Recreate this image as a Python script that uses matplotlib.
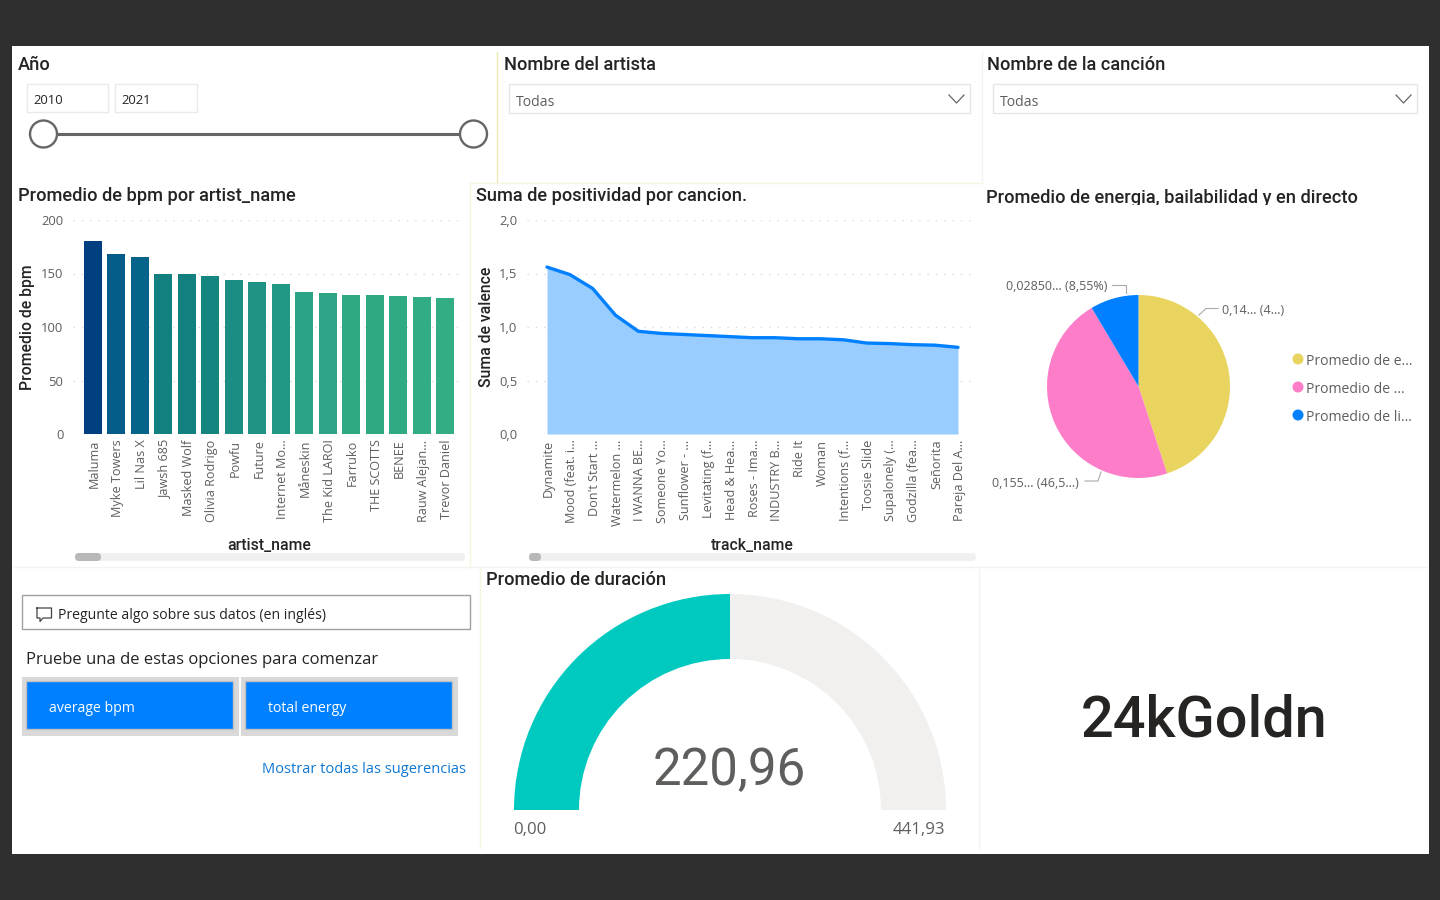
import numpy as np
import matplotlib
matplotlib.use("Agg")
import matplotlib.pyplot as plt
from matplotlib.colors import LinearSegmentedColormap
from matplotlib.patches import Rectangle, Circle, FancyBboxPatch, Wedge
from matplotlib.transforms import ScaledTranslation

W, H = 1440, 900

# Bar chart data
artists = ["Maluma", "Myke Towers", "Lil Nas X", "Jawsh 685", "Masked Wolf", "Olivia Rodrigo",
           "Powfu", "Future", "Internet Mo...", "Måneskin", "The Kid LAROI", "Farruko",
           "THE SCOTTS", "BENEE", "Rauw Alejan...", "Trevor Daniel"]
bpm = [180, 168, 165, 150, 150, 148, 144, 142, 140, 133, 132, 130, 130, 129, 128, 127]

# Area chart data
tracks = ["Dynamite", "Mood (feat. i...", "Don't Start ...", "Watermelon ...", "I WANNA BE...",
          "Someone Yo...", "Sunflower - ...", "Levitating (f...", "Head & Hea...", "Roses - Ima...",
          "INDUSTRY B...", "Ride It", "Woman", "Intentions (f...", "Toosie Slide", "Supalonely (...",
          "Godzilla (fea...", "Señorita", "Pareja Del A..."]
valence = [1.56, 1.49, 1.36, 1.11, 0.96, 0.94, 0.93, 0.92, 0.91, 0.90,
           0.90, 0.89, 0.89, 0.88, 0.85, 0.845, 0.835, 0.83, 0.81]

# Pie data
pie_values = [0.1498, 0.155, 0.0285]
pie_colors = ["#E8D45E", "#FD7DC9", "#0080FF"]
pie_labels = ["0,14... (4...)", "0,155... (46,5...)", "0,02850... (8,55%)"]
pie_legend = ["Promedio de e...", "Promedio de ...", "Promedio de li..."]

# Gauge data
gauge_value = 220.96
gauge_max = 441.93

TITLE = "#252423"
GRAY = "#605E5C"
GRID = "#D9D9D9"
SANS = "Open Sans"
HEAD = "Roboto"


def px_axes(x0, y0, x1, y1):
    # axes from pixel box, y counted from the top
    ax = fig.add_axes([x0 / W, 1 - y1 / H, (x1 - x0) / W, (y1 - y0) / H], zorder=2)
    ax.patch.set_alpha(0)
    return ax


def px(size):
    return size * 0.72


def box(x0, y0, x1, y1, fc="white", ec="none", lw=1, z=1):
    bg.add_patch(Rectangle((x0, y0), x1 - x0, y1 - y0, facecolor=fc, edgecolor=ec, linewidth=lw, zorder=z))


def title(x, y, s):
    bg.text(x, y, s, fontsize=px(18.3), family=HEAD, weight="medium", color=TITLE, ha="left", va="baseline", zorder=3)


def axis_label(x, y, s, rotation=0):
    bg.text(x, y, s, rotation=rotation, fontsize=px(15.8), family=HEAD, weight="medium", color=TITLE,
            ha="center", va="center", zorder=3)


def style_chart(ax, ticks, ticklabels):
    for s in ax.spines.values():
        s.set_visible(False)
    ax.set_ylim(0, ticks[-1])
    ax.set_yticks(ticks, ticklabels)
    ax.grid(axis="y", color=GRID, linestyle=(0, (1, 5)), linewidth=1)
    ax.set_axisbelow(True)
    ax.tick_params(axis="y", length=0, pad=7, labelsize=px(13), labelcolor=GRAY)
    ax.tick_params(axis="x", length=0, pad=4, labelsize=px(12.6), labelcolor=GRAY, labelrotation=90)
    shift = ScaledTranslation(1.5 / 100, 0, fig.dpi_scale_trans)
    for t in ax.get_xticklabels():
        t.set_family(SANS)
        t.set_transform(t.get_transform() + shift)
    for t in ax.get_yticklabels():
        t.set_family(SANS)


fig = plt.figure(figsize=(W / 100, H / 100), dpi=100, facecolor="#2F2F2F")

# full page layer for the report frame, measured in pixels
bg = fig.add_axes([0, 0, 1, 1], zorder=0)
bg.set_xlim(0, W)
bg.set_ylim(H, 0)
bg.axis("off")
box(12, 46, 1429, 854)

# panel separators
bg.plot([497, 497], [52, 183], color="#EFE9B0", lw=1, zorder=2)
bg.plot([982, 982], [52, 183], color="#F3F3F0", lw=1, zorder=2)
bg.plot([470, 982], [183, 183], color="#F7F5E0", lw=1, zorder=2)
bg.plot([470, 470], [183, 567], color="#F7F5E0", lw=1, zorder=2)
bg.plot([13, 1428], [567, 567], color="#F3F3F0", lw=1, solid_capstyle="butt", zorder=2)
bg.plot([480, 480], [567, 848], color="#F7F5E0", lw=1, zorder=2)
bg.plot([979, 979], [567, 848], color="#F3F3F0", lw=1, zorder=2)

# slicers
title(17.5, 70, "Año")
title(503.5, 70, "Nombre del artista")
title(987, 70, "Nombre de la canción")
box(26.5, 84, 107.5, 112, ec="#EAEAEA")
box(114.5, 84, 196.5, 112, ec="#EAEAEA")
bg.text(33.5, 100.5, "2010", fontsize=px(13), family=SANS, color=TITLE, va="center", zorder=3)
bg.text(121.5, 100.5, "2021", fontsize=px(13), family=SANS, color=TITLE, va="center", zorder=3)
bg.plot([43, 473], [134, 134], color="#666666", lw=2.2, zorder=2)
for cx in (43.5, 473.5):
    bg.add_patch(Circle((cx, 134), 13.5, facecolor="white", edgecolor="#666666", linewidth=1.7, zorder=3))
for x0, x1 in ((509, 970), (993, 1417)):
    box(x0, 84, x1, 113, ec="#E6E6E6")
    bg.text(x0 + 7, 102, "Todas", fontsize=px(14), family=SANS, color=GRAY, va="center", zorder=3)
    bg.plot([x1 - 21, x1 - 13.5, x1 - 6], [95, 103, 95], color="#666666", lw=0.9, zorder=3)

# bar chart
title(17.5, 201, "Promedio de bpm por artist_name")
bar_cmap = LinearSegmentedColormap.from_list(
    "bpm", [(0, "#33AD84"), (0.25, "#209686"), (0.43, "#12817F"), (0.72, "#05648A"), (1, "#023F80")])
ax1 = px_axes(73, 220, 462, 434)
pos1 = np.arange(len(artists))
norm_bpm = (np.array(bpm) - min(bpm)) / (max(bpm) - min(bpm))
ax1.bar(pos1, bpm, width=0.77, color=bar_cmap(norm_bpm))
ax1.set_xlim(-0.85, 15.72)
ax1.set_xticks(pos1, artists)
style_chart(ax1, [0, 50, 100, 150, 200], ["0", "50", "100", "150", "200"])
axis_label(27.5, 327, "Promedio de bpm", rotation=90)
axis_label(269, 545.5, "artist_name")

# area chart
title(475.5, 201, "Suma de positividad por cancion.")
ax2 = px_axes(527, 220, 976, 434)
pos2 = np.arange(len(tracks))
ax2.fill_between(pos2, valence, 0, color="#99CCFF", linewidth=0)
ax2.plot(pos2, valence, color="#0080FF", lw=2.4, solid_capstyle="round")
ax2.set_xlim(-20 / 22.83, 18 + 18 / 22.83)
ax2.set_xticks(pos2, tracks)
style_chart(ax2, [0, 0.5, 1.0, 1.5, 2.0], ["0,0", "0,5", "1,0", "1,5", "2,0"])
axis_label(486.5, 327, "Suma de valence", rotation=90)
axis_label(752, 545.5, "track_name")

# scrollbars
for x0, x1, thumb in ((75, 465, 101), (529, 976, 541)):
    bg.add_patch(FancyBboxPatch((x0, 553), x1 - x0, 8, boxstyle="round,pad=0,rounding_size=4",
                                facecolor="#F0F0F0", edgecolor="none", zorder=2))
    bg.add_patch(FancyBboxPatch((x0, 553), thumb - x0, 8, boxstyle="round,pad=0,rounding_size=4",
                                facecolor="#B8B8B8", edgecolor="none", zorder=3))

# pie chart
title(986, 203, "Promedio de energia, bailabilidad y en directo")
box(984, 204.5, 1400, 210, z=4)
ax3 = px_axes(1047, 295, 1230, 478)
ax3.pie(pie_values, colors=pie_colors, startangle=90, counterclock=False, radius=1,
        wedgeprops=dict(linewidth=0))
ax3.set_xlim(-1, 1)
ax3.set_ylim(-1, 1)
label_pos = [(1222, 310.5), (1079, 483.5), (1107, 286.5)]
label_ha = ["left", "right", "right"]
leaders = [([1199, 1206, 1218], [315, 308.5, 308.5]),
           ([1101, 1098, 1085], [472, 481, 481]),
           ([1126, 1126, 1112], [293, 285, 285])]
for s, p, ha, ld in zip(pie_labels, label_pos, label_ha, leaders):
    bg.text(p[0], p[1], s, fontsize=px(12.5), family=SANS, color=GRAY, ha=ha, va="center", zorder=3)
    bg.plot(ld[0], ld[1], color="#AAAAAA", lw=0.8, zorder=3)
for s, c, y in zip(pie_legend, pie_colors, (359, 387, 415)):
    bg.add_patch(Circle((1298, y), 5.5, facecolor=c, edgecolor="none", zorder=3))
    bg.text(1306, y + 2.4, s, fontsize=px(14), family=SANS, color=GRAY, va="center", zorder=3)

# Q&A panel
box(22, 595, 470, 629, ec="#A0A0A0")
bg.plot([37, 51.5, 51.5, 43, 40, 40, 37, 37], [608, 608, 618, 618, 621.5, 618, 618, 608], color="#444444", lw=0.9, zorder=3)
bg.text(58, 615.4, "Pregunte algo sobre sus datos (en inglés)", fontsize=px(14), family=SANS, color=TITLE, va="center", zorder=3)
bg.text(26, 660, "Pruebe una de estas opciones para comenzar", fontsize=px(16.6), family=SANS, color=TITLE, va="center", zorder=3)
for x0, x1, s in ((22, 239, "average bpm"), (241, 458, "total energy")):
    box(x0, 677, x1, 736, fc="#D9D9D9")
    box(x0 + 4, 681, x1 - 6, 729, fc="#0080FF", ec="#C0C0C0")
    bg.text(x0 + 27, 709, s, fontsize=px(14), family=SANS, color="white", va="center", zorder=3)
bg.text(466, 769.4, "Mostrar todas las sugerencias", fontsize=px(14.6), family=SANS, color="#0F78D4", ha="right", va="center", zorder=3)

# gauge
title(486, 585, "Promedio de duración")
ax4 = px_axes(514, 594, 946, 810)
ax4.set_xlim(-216, 216)
ax4.set_ylim(0, 216)
ax4.axis("off")
split = 180 * (1 - gauge_value / gauge_max)
ax4.add_patch(Wedge((0, 0), 216, 0, split, width=65, facecolor="#F1F0EE", edgecolor="none"))
ax4.add_patch(Wedge((0, 0), 216, split, 180, width=65, facecolor="#00C9C0", edgecolor="none"))
bg.text(729, 771, f"{gauge_value:.2f}".replace(".", ","), fontsize=px(51),
        family=HEAD, color=GRAY, ha="center", va="center", zorder=3)
bg.text(513.5, 829.5, "0,00", fontsize=px(16.8), family=SANS, color=GRAY, va="center", zorder=3)
bg.text(945.5, 829.5, f"{gauge_max:.2f}".replace(".", ","), fontsize=px(16.8), family=SANS, color=GRAY, ha="right", va="center", zorder=3)

# card
bg.text(1204, 721, "24kGoldn", fontsize=px(57.6), family=HEAD, weight="medium", color="#252423", ha="center", va="center", zorder=3)

fig.savefig("out.png", dpi=100, facecolor=fig.get_facecolor())
